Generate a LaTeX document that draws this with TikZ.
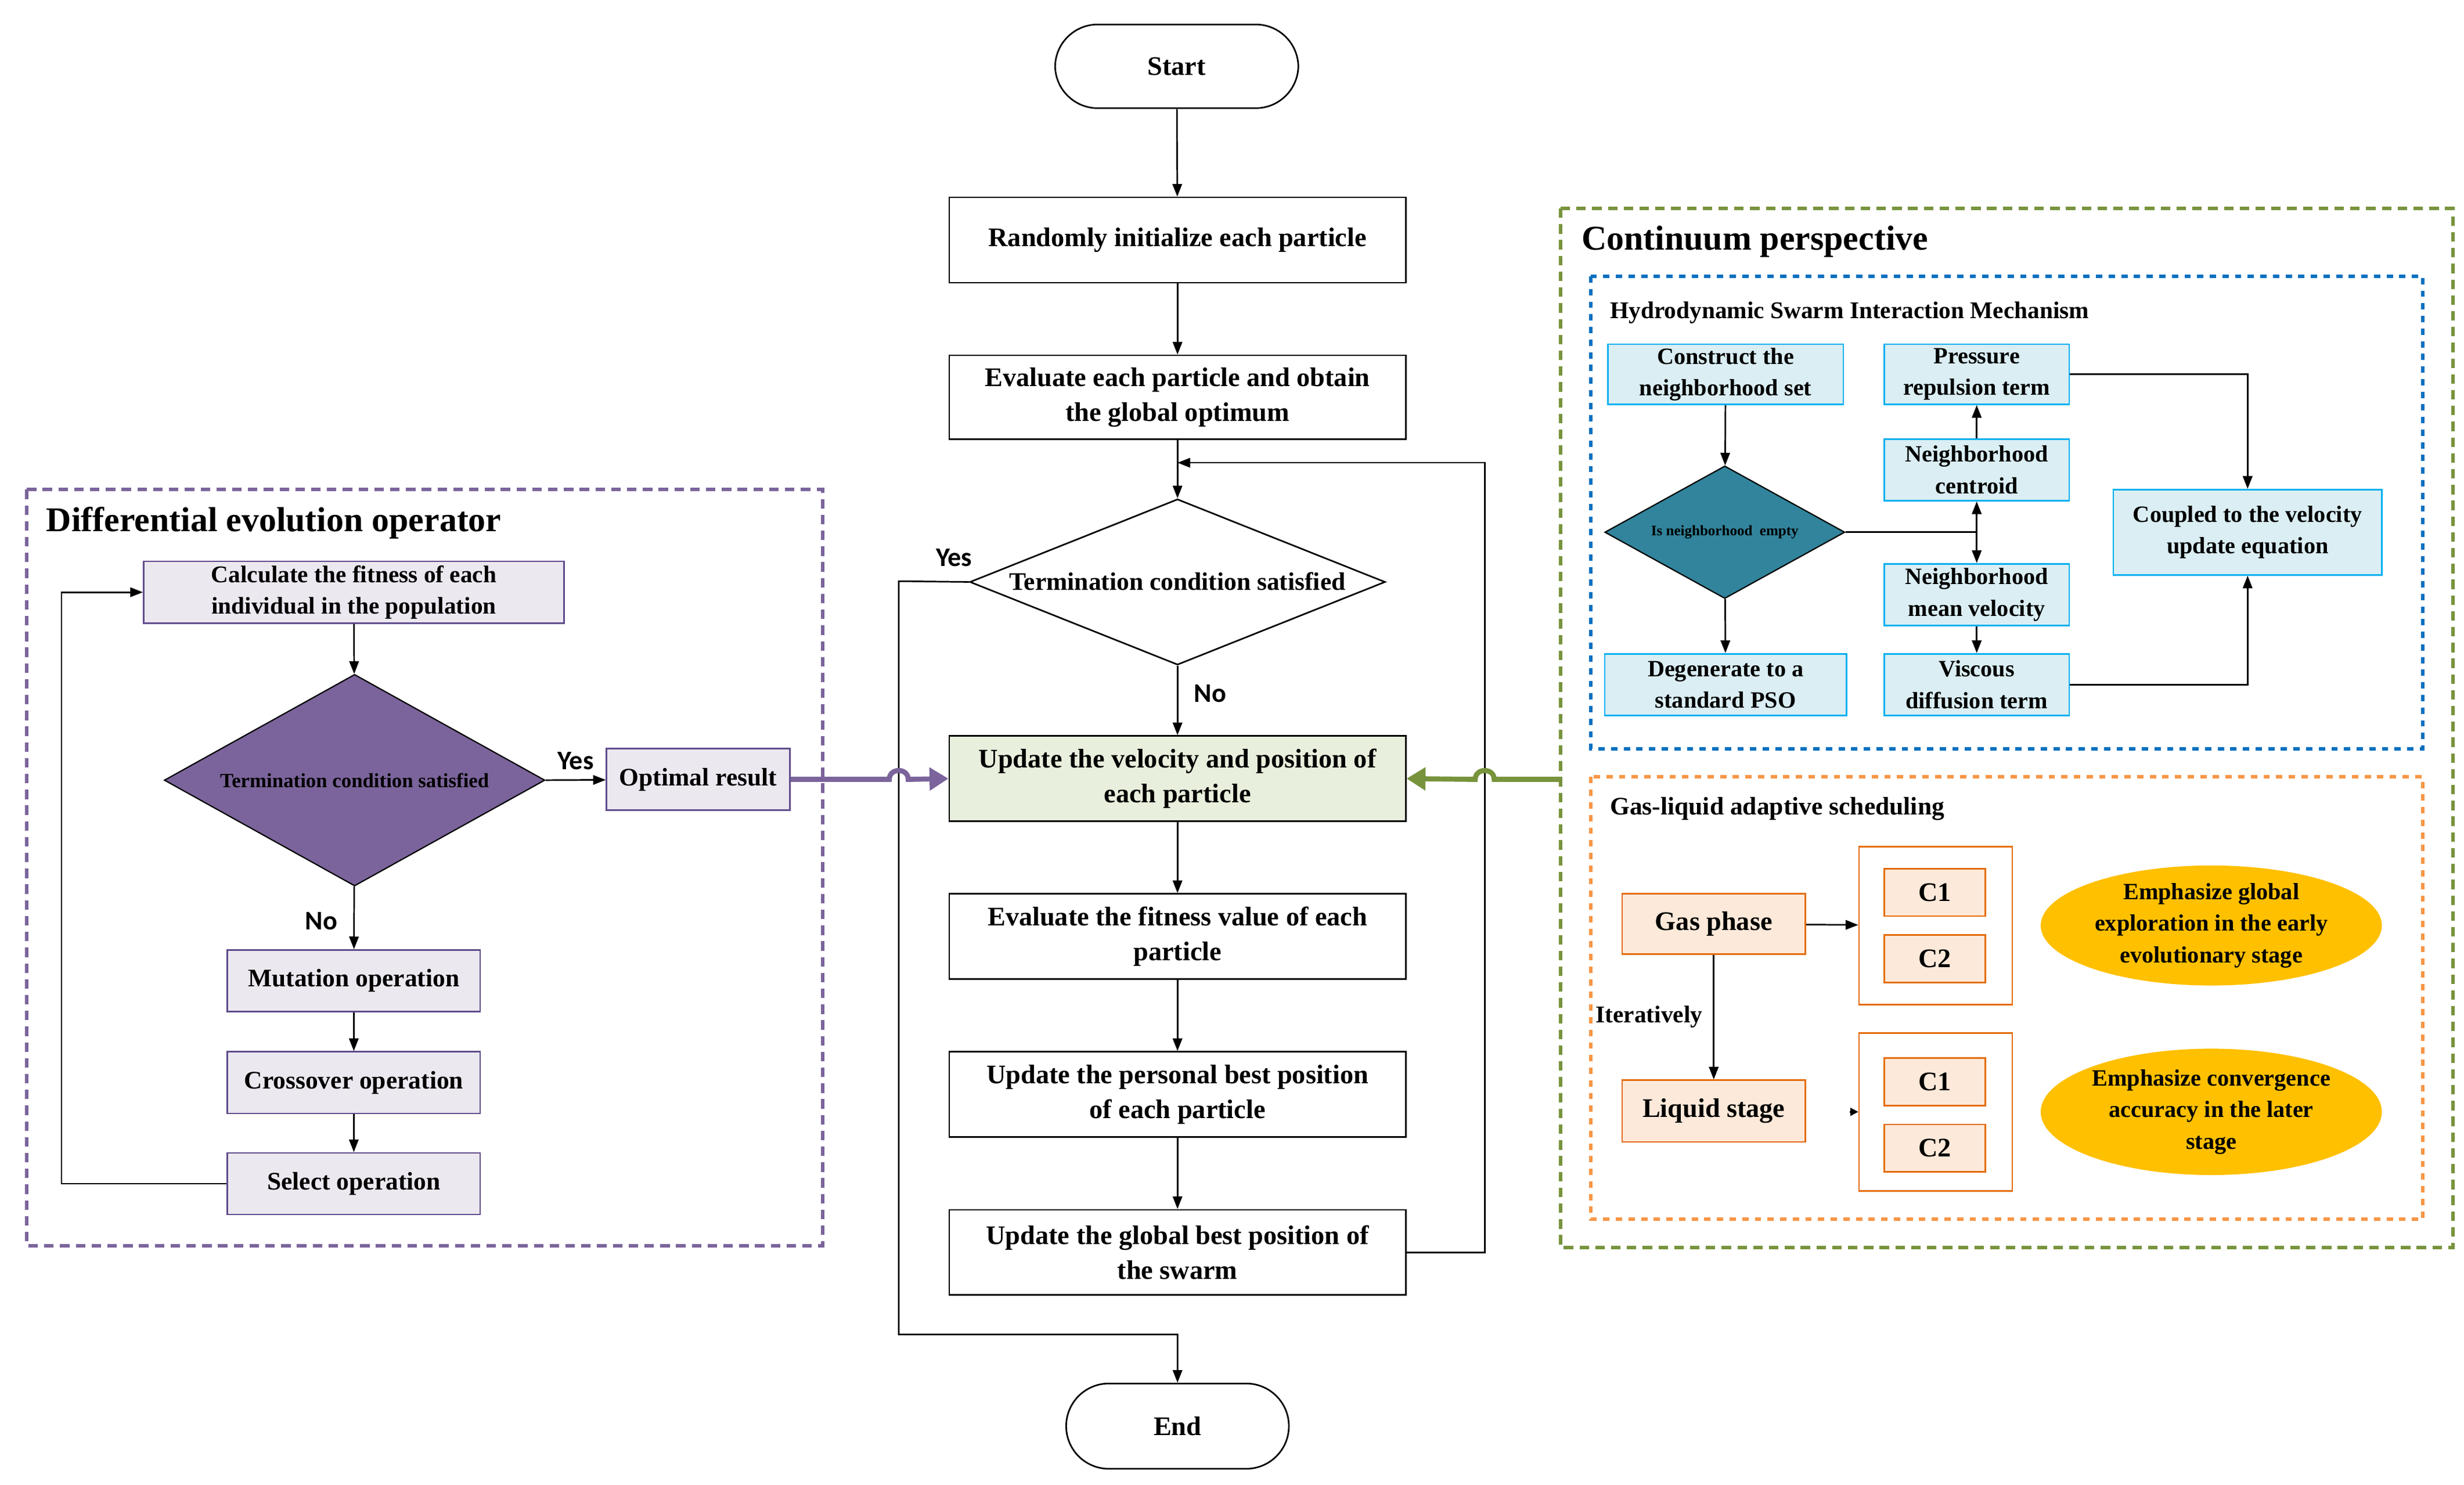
\documentclass[tikz,border=0pt]{standalone}
\usepackage{fontspec}
\setmainfont{Liberation Serif}
\newfontfamily\ynfont{Carlito}
\usetikzlibrary{shapes.geometric,arrows.meta}
\definecolor{pur}{HTML}{7B649B}
\definecolor{purd}{HTML}{5F4B8B}
\definecolor{purl}{HTML}{ECE8F0}
\definecolor{grn}{HTML}{77933C}
\definecolor{grnl}{HTML}{E8EFDC}
\definecolor{blu}{HTML}{0070C0}
\definecolor{cyb}{HTML}{00B0F0}
\definecolor{cyl}{HTML}{DAEEF3}
\definecolor{teal}{HTML}{31849B}
\definecolor{org}{HTML}{F79646}
\definecolor{orgd}{HTML}{E46C0A}
\definecolor{orgl}{HTML}{FDE9D9}
\definecolor{gold}{HTML}{FFC000}
\tikzset{
 box/.style={draw=black,line width=0.5pt,fill=white,align=center,inner sep=1pt,font=\bfseries\fontsize{8.5}{11}\selectfont},
 pbox/.style={draw=purd,line width=0.5pt,fill=purl,align=center,inner sep=1pt,font=\bfseries\fontsize{7.6}{10}\selectfont},
 cbox/.style={draw=cyb,line width=0.5pt,fill=cyl,align=center,inner sep=1pt,font=\bfseries\fontsize{7.4}{10}\selectfont},
 obox/.style={draw=orgd,line width=0.5pt,fill=orgl,align=center,inner sep=1pt,font=\bfseries\fontsize{8.5}{10}\selectfont},
 ar/.style={line width=0.5pt,-{Triangle[length=4pt,width=3pt]}},
 ln/.style={line width=0.5pt},
 yn/.style={font=\ynfont\bfseries\fontsize{8.5}{10}\selectfont,inner sep=0pt},
 ttl/.style={font=\bfseries\fontsize{11}{13}\selectfont,anchor=west,inner sep=0pt},
 sttl/.style={font=\bfseries\fontsize{7.6}{9}\selectfont,anchor=west,inner sep=0pt},
}
\begin{document}
\begin{tikzpicture}[x=0.5pt,y=-0.5pt]
\useasboundingbox (0,0) rectangle (1560,940);
% frames
\draw[pur,line width=1.1pt,dash pattern=on 3pt off 2pt] (17,310) rectangle (521,789);
\draw[grn,line width=1.1pt,dash pattern=on 3pt off 2pt] (988,132) rectangle (1553,790);
\draw[blu,line width=1.1pt,dash pattern=on 2pt off 2pt] (1007,175) rectangle (1534,474);
\draw[org,line width=1.1pt,dash pattern=on 2pt off 2pt] (1007,492) rectangle (1534,772);
\node[ttl] (t1) at (29,331) {Differential evolution operator};
\node[ttl] (t2) at (1001,153) {Continuum perspective};
\node[sttl] (t3) at (1019,198) {Hydrodynamic Swarm Interaction Mechanism};
\node[sttl,font=\bfseries\fontsize{8}{9}\selectfont] (t4) at (1019,512) {Gas-liquid adaptive scheduling};

% main column
\node[box,rounded corners=13.5pt,minimum width=77pt,minimum height=26.5pt] (start) at (745,42) {Start};
\node[box,minimum width=144.5pt,minimum height=27pt] (b1) at (745.5,152) {Randomly initialize each particle};
\node[box,minimum width=144.5pt,minimum height=26.5pt] (b2) at (745.5,251.5) {Evaluate each particle and obtain\\the global optimum};
\node[diamond,draw,line width=0.5pt,fill=white,aspect=2.5,minimum width=131.5pt,minimum height=52.5pt,inner sep=0pt,font=\bfseries\fontsize{8}{10}\selectfont] (d1) at (745.5,368.5) {};
\node[font=\bfseries\fontsize{8}{10}\selectfont] (d1t) at (745.5,368) {Termination condition satisfied};
\node[box,fill=grnl,minimum width=144.5pt,minimum height=27pt] (up) at (745.5,493) {Update the velocity and position of\\each particle};
\node[box,minimum width=144.5pt,minimum height=27pt] (ev) at (745.5,593) {Evaluate the fitness value of each\\particle};
\node[box,minimum width=144.5pt,minimum height=27pt] (pb) at (745.5,693) {Update the personal best position\\of each particle};
\node[box,minimum width=144.5pt,minimum height=27pt] (gb) at (745.5,793) {Update the global best position of\\the swarm};
\node[box,rounded corners=13.5pt,minimum width=70.5pt,minimum height=27pt] (end) at (745.5,903) {End};
\coordinate (j1) at (745.5,293);
\draw[ar] (start) -- (b1);
\draw[ar] (b1) -- (b2);
\draw[ar] (b2) -- (d1);
\draw[ar] (d1) -- node[yn,right=5pt,pos=0.4] (no1) {No} (up);
\draw[ar] (up) -- (ev);
\draw[ar] (ev) -- (pb);
\draw[ar] (pb) -- (gb);
\draw[ar] (gb.east) -- (940,793) -- (940,293) -- (j1);
\draw[ar] (d1.west) -- (569,368) -- (569,845) -- (745.5,845) -- (end);
\node[yn] (yes1) at (604,353) {Yes};

% left DE
\node[pbox,minimum width=133pt,minimum height=19.5pt] (calc) at (224,375) {Calculate the fitness of each\\individual in the population};
\node[diamond,draw=black,line width=0.4pt,fill=pur,aspect=1.8,minimum width=120.5pt,minimum height=67pt,inner sep=0pt] (d2) at (224.5,494) {};
\node[font=\bfseries\fontsize{6.4}{8}\selectfont] (d2t) at (224.5,494) {Termination condition satisfied};
\node[pbox,minimum width=58pt,minimum height=19.5pt,font=\bfseries\fontsize{8}{10}\selectfont] (opt) at (442,493.5) {Optimal result};
\node[pbox,minimum width=80pt,minimum height=19.5pt,font=\bfseries\fontsize{8}{10}\selectfont] (mut) at (224,621) {Mutation operation};
\node[pbox,minimum width=80pt,minimum height=19.5pt,font=\bfseries\fontsize{8}{10}\selectfont] (cro) at (224,685.5) {Crossover operation};
\node[pbox,minimum width=80pt,minimum height=19.5pt,font=\bfseries\fontsize{8}{10}\selectfont] (sel) at (224,749.5) {Select operation};
\draw[ar] (calc) -- (d2);
\draw[ar] (d2.east) -- node[yn,above=3pt] (yes2) {Yes} (opt);
\draw[ar] (d2) -- node[yn,left=5pt,pos=0.55] (no2) {No} (mut);
\draw[ar] (mut) -- (cro);
\draw[ar] (cro) -- (sel);
\draw[ar] (sel.west) -- (39,749.5) -- (39,375) -- (calc.west);
\draw[pur,line width=1.6pt,-{Triangle[length=6pt,width=7pt]}] (opt.east) -- (563,493.5) .. controls (563,486) and (575,486) .. (575,493.5) -- (up.west);
\draw[grn,line width=1.6pt,-{Triangle[length=6pt,width=7pt]}] (988,493.5) -- (946,493.5) .. controls (946,486) and (934,486) .. (934,493.5) -- (up.east);

% hydrodynamic
\node[cbox,minimum width=74.5pt,minimum height=19pt] (con) at (1092.5,237) {Construct the\\neighborhood set};
\node[cbox,minimum width=58.5pt,minimum height=19pt] (pre) at (1251.5,237) {Pressure\\repulsion term};
\node[cbox,minimum width=58.5pt,minimum height=19.5pt] (cen) at (1251.5,297.5) {Neighborhood\\centroid};
\node[cbox,minimum width=58.5pt,minimum height=19.5pt] (mv) at (1251.5,376.5) {Neighborhood\\mean velocity};
\node[cbox,minimum width=58.5pt,minimum height=19.5pt] (vis) at (1251.5,433.5) {Viscous\\diffusion term};
\node[cbox,minimum width=76.5pt,minimum height=19.5pt] (deg) at (1092.5,433.5) {Degenerate to a\\standard PSO};
\node[cbox,minimum width=85pt,minimum height=27pt] (cou) at (1423,337) {Coupled to the velocity\\update equation};
\node[diamond,draw=black,line width=0.4pt,fill=teal,aspect=1.8,minimum width=76pt,minimum height=42pt,inner sep=0pt] (d3) at (1092,337) {};
\node[font=\bfseries\fontsize{4.6}{6}\selectfont] (d3t) at (1092,337) {Is neighborhood\ \ empty};
\coordinate (sp) at (1251.5,337);
\draw[ar] (con) -- (d3);
\draw[ar] (d3) -- (deg);
\draw[ln] (d3.east) -- (sp);
\draw[ar] (sp) -- (cen);
\draw[ar] (sp) -- (mv);
\draw[ar] (cen) -- (pre);
\draw[ar] (mv) -- (vis);
\draw[ar] (pre.east) -- (1423,237) -- (cou.north);
\draw[ar] (vis.east) -- (1423,433.5) -- (cou.south);

% gas-liquid
\node[obox,minimum width=58pt,minimum height=19pt] (gas) at (1085,585) {Gas phase};
\node[obox,minimum width=58pt,minimum height=19.5pt] (liq) at (1085,703.5) {Liquid stage};
\node[draw=orgd,line width=0.5pt,fill=white,minimum width=48.5pt,minimum height=50pt,inner sep=0pt] (k1) at (1225.5,586) {};
\node[draw=orgd,line width=0.5pt,fill=white,minimum width=48.5pt,minimum height=50pt,inner sep=0pt] (k2) at (1225.5,704) {};
\node[obox,minimum width=32pt,minimum height=15pt] (c11) at (1225,565) {C1};
\node[obox,minimum width=32pt,minimum height=15pt] (c12) at (1225,607) {C2};
\node[obox,minimum width=32pt,minimum height=15pt] (c21) at (1225,685) {C1};
\node[obox,minimum width=32pt,minimum height=15pt] (c22) at (1225,727) {C2};
\node[ellipse,fill=gold,minimum width=108pt,minimum height=38pt,inner sep=0pt,align=center,font=\bfseries\fontsize{7.4}{10}\selectfont] (e1) at (1400,586) {Emphasize global\\exploration in the early\\evolutionary stage};
\node[ellipse,fill=gold,minimum width=108pt,minimum height=40pt,inner sep=0pt,align=center,font=\bfseries\fontsize{7.4}{10}\selectfont] (e2) at (1400,704) {Emphasize convergence\\accuracy in the later\\stage};
\draw[ar] (gas) -- (k1);
\draw[ar] (gas) -- node[left=0pt,font=\bfseries\fontsize{7.6}{9}\selectfont] (it) {Iteratively} (liq);
\coordinate (lq) at (1171,704);
\draw[ln,-{Triangle[length=2.5pt,width=2.5pt]}] (lq) -- (k2.west);
\end{tikzpicture}
\end{document}
